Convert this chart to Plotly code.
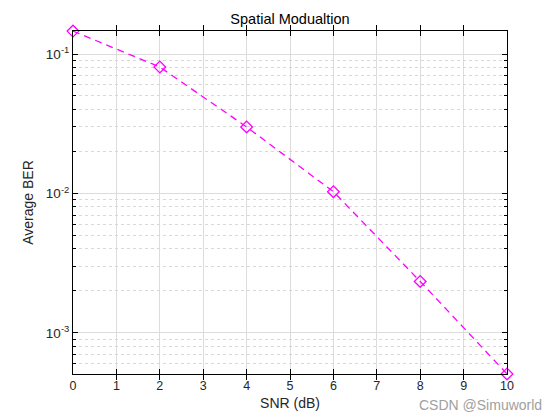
import plotly.graph_objects as go

snr = [0, 2, 4, 6, 8, 10]
ber = [0.146, 0.0807, 0.0300, 0.0103, 0.00234, 0.000508]

xticks = list(range(0, 11))
yticks = [1e-3, 1e-2, 1e-1]
ylabels = ["10<sup>-3</sup>", "10<sup>-2</sup>", "10<sup>-1</sup>"]
yminor = [m * d for d in (1e-4, 1e-3, 1e-2, 1e-1) for m in range(2, 10)]

yrange = [-3.2945, -0.835]

fig = go.Figure()

# invisible trace so the minor-grid axis gets drawn
fig.add_trace(go.Scatter(x=[snr[0]], y=[ber[0]], yaxis="y2", mode="markers",
                         marker=dict(opacity=0), hoverinfo="skip", showlegend=False))

fig.add_trace(go.Scatter(
    x=snr, y=ber,
    mode="lines+markers",
    line=dict(color="#ff00ff", width=1.3, dash="7px,5px"),
    marker=dict(symbol="diamond-open", size=9, color="#ff00ff", line=dict(width=1.3)),
    cliponaxis=False,
    showlegend=False,
))

fig.update_layout(
    width=560, height=420,
    margin=dict(l=65, r=61, t=23, b=54),
    paper_bgcolor="white", plot_bgcolor="white",
    font=dict(family="Liberation Sans, Arial, sans-serif", color="#262626"),
    title=dict(text="Spatial Modualtion", x=0.5, xref="paper", y=0.974, yanchor="middle",
               font=dict(size=14.5, color="black")),
    xaxis=dict(
        range=[0, 10], tickvals=xticks,
        showgrid=True, gridcolor="#dcdcdc", gridwidth=1,
        showline=True, linecolor="black", linewidth=1, mirror="allticks",
        ticks="inside", ticklen=5, tickcolor="black",
        zeroline=False,
        title=dict(text="SNR (dB)", font=dict(size=14), standoff=6),
        tickfont=dict(size=12.5),
    ),
    yaxis=dict(
        type="log", range=yrange,
        tickvals=yticks, ticktext=ylabels,
        showgrid=True, gridcolor="#dcdcdc", gridwidth=1,
        showline=True, linecolor="black", linewidth=1, mirror="allticks",
        ticks="inside", ticklen=5, tickcolor="black",
        zeroline=False,
        title=dict(text="Average BER", font=dict(size=14), standoff=8),
        tickfont=dict(size=13.5),
    ),
    yaxis2=dict(
        type="log", range=yrange, overlaying="y", side="left",
        tickvals=yminor, ticktext=[""] * len(yminor),
        showgrid=True, gridcolor="#d8d8d8", gridwidth=1, griddash="dot",
        showline=True, linecolor="black", mirror="allticks",
        ticks="inside", ticklen=3, tickcolor="black",
        zeroline=False, layer="below traces",
    ),
    annotations=[dict(text="CSDN @Simuworld", xref="paper", yref="paper",
                      x=1.085, y=-0.090, xanchor="right", yanchor="middle",
                      showarrow=False, font=dict(size=14, color="#a0a0a0"))],
)

fig.write_html("out.html")
